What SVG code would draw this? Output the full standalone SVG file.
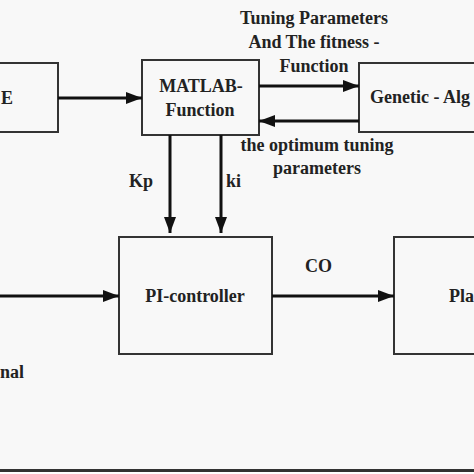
<svg xmlns="http://www.w3.org/2000/svg" width="474" height="474" viewBox="0 0 474 474">
<defs>
<marker id="ah" viewBox="0 0 16 12" refX="16" refY="6" markerWidth="16" markerHeight="12" markerUnits="userSpaceOnUse" orient="auto">
<path d="M0,0 L16,6 L0,12 Z" fill="#111"/>
</marker>
<style>
.box{fill:none;stroke:#333;stroke-width:2}
.t{font-family:"Liberation Serif","Times New Roman",serif;font-weight:bold;font-size:18px;fill:#222}
.c{stroke:#111;stroke-width:3;fill:none;marker-end:url(#ah)}
</style>
</defs>
<rect x="0" y="0" width="474" height="474" fill="#f8f8f8"/>
<rect x="0" y="469" width="474" height="3" fill="#333"/>
<rect x="0" y="472" width="474" height="2" fill="#fff"/>
<g id="nodeE"><rect class="box" x="-10" y="63" width="68" height="69"/><text class="t" x="1" y="104">E</text></g>
<g id="matlab"><rect class="box" x="142" y="60" width="117" height="75"/><text class="t" x="201" y="92" text-anchor="middle">MATLAB-</text><text class="t" x="200" y="116" text-anchor="middle">Function</text></g>
<g id="genetic"><rect class="box" x="359" y="63" width="130" height="69"/><text class="t" x="370" y="103">Genetic - Alg</text></g>
<g id="pi"><rect class="box" x="119" y="237" width="153" height="117"/><text class="t" x="195" y="302" text-anchor="middle">PI-controller</text></g>
<g id="plant"><rect class="box" x="394" y="237" width="100" height="117"/><text class="t" x="449" y="302">Pla</text></g>
<g id="connectors">
<line class="c" x1="58" y1="98" x2="142" y2="98"/>
<line class="c" x1="259" y1="86" x2="359" y2="86"/>
<line class="c" x1="359" y1="121" x2="259" y2="121"/>
<line class="c" x1="170" y1="135" x2="170" y2="233"/>
<line class="c" x1="221" y1="135" x2="221" y2="233"/>
<line class="c" x1="0" y1="296" x2="119" y2="296"/>
<line class="c" x1="272" y1="296" x2="394" y2="296"/>
</g>
<g id="labels">
<text class="t" x="314" y="24" text-anchor="middle">Tuning Parameters</text>
<text class="t" x="314" y="48" text-anchor="middle">And The fitness -</text>
<text class="t" x="314" y="72" text-anchor="middle">Function</text>
<text class="t" x="317" y="151" text-anchor="middle">the optimum tuning</text>
<text class="t" x="317" y="174" text-anchor="middle">parameters</text>
<text class="t" x="129" y="187">Kp</text>
<text class="t" x="226" y="187">ki</text>
<text class="t" x="305" y="272">CO</text>
<text class="t" x="0" y="378">nal</text>
</g>
</svg>
